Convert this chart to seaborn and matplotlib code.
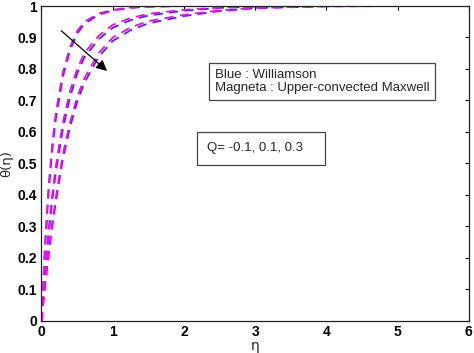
import matplotlib
matplotlib.use("Agg")
import matplotlib.pyplot as plt
import seaborn as sns
import pandas as pd

# eta grid and read-off values
eta = [0, 0.05, 0.1, 0.15, 0.2, 0.3, 0.4, 0.5, 0.6, 0.8, 1.0, 1.25, 1.5, 2.0, 2.5, 3.0, 4.0, 5.0, 6.0]

# Magenta: Upper-convected Maxwell, Q = -0.1, 0.1, 0.3
ucm_q1 = [0, 0.25, 0.43, 0.56, 0.66, 0.79, 0.87, 0.92, 0.95, 0.976, 0.988, 0.995, 0.998, 1.0, 1.0, 1.0, 1.0, 1.0, 1.0]
ucm_q2 = [0, 0.16, 0.29, 0.40, 0.49, 0.63, 0.73, 0.80, 0.85, 0.905, 0.940, 0.962, 0.975, 0.988, 0.995, 0.998, 1.0, 1.0, 1.0]
ucm_q3 = [0, 0.12, 0.22, 0.31, 0.39, 0.53, 0.63, 0.71, 0.77, 0.85, 0.900, 0.932, 0.952, 0.972, 0.986, 0.994, 0.999, 1.0, 1.0]

# Blue: Williamson, Q = -0.1, 0.1, 0.3
wil_q1 = [0, 0.23, 0.41, 0.54, 0.64, 0.775, 0.86, 0.912, 0.943, 0.972, 0.986, 0.994, 0.998, 1.0, 1.0, 1.0, 1.0, 1.0, 1.0]
wil_q2 = [0, 0.15, 0.27, 0.38, 0.47, 0.61, 0.71, 0.785, 0.836, 0.894, 0.931, 0.955, 0.970, 0.985, 0.994, 0.998, 1.0, 1.0, 1.0]
wil_q3 = [0, 0.11, 0.21, 0.30, 0.375, 0.515, 0.615, 0.695, 0.755, 0.838, 0.889, 0.923, 0.945, 0.968, 0.984, 0.993, 0.999, 1.0, 1.0]

x_ticks = [0, 1, 2, 3, 4, 5, 6]
y_ticks = [0, 0.1, 0.2, 0.3, 0.4, 0.5, 0.6, 0.7, 0.8, 0.9, 1]
y_tick_labels = ["0", "0.1", "0.2", "0.3", "0.4", "0.5", "0.6", "0.7", "0.8", "0.9", "1"]

sns.set_theme(style="white")
plt.rcParams['font.family'] = ['Liberation Sans', 'DejaVu Sans']

fig = plt.figure(figsize=(4.74, 3.53), dpi=100)
ax = fig.add_axes([0.0875, 0.0907, 0.9015, 0.8923])

series = [
    (wil_q1, "#3030ff"), (wil_q2, "#3030ff"), (wil_q3, "#3030ff"),
    (ucm_q1, "#ff00ff"), (ucm_q2, "#ff00ff"), (ucm_q3, "#ff00ff"),
]
for vals, col in series:
    df = pd.DataFrame({"eta": eta, "theta": vals})
    sns.lineplot(data=df, x="eta", y="theta", ax=ax, color=col,
                 linewidth=1.3, linestyle=(0, (5, 3.5)), estimator=None)

ax.set_xlim(0, 6)
ax.set_ylim(0, 1)
ax.set_xticks(x_ticks)
ax.set_yticks(y_ticks)
ax.set_xticklabels([str(t) for t in x_ticks])
ax.set_yticklabels(y_tick_labels)
ax.tick_params(direction="in", length=3, width=0.8, top=True, right=True,
               labelsize=10, pad=3, colors="black")
for lbl in ax.get_xticklabels() + ax.get_yticklabels():
    lbl.set_fontweight("semibold")
for s in ax.spines.values():
    s.set_color("#222222")
    s.set_linewidth(0.9)
    s.set_visible(True)

ax.set_xlabel("η", fontsize=10, labelpad=0, family=["DejaVu Sans"])
ax.set_ylabel("θ(η)", fontsize=9.5, labelpad=3, family=["DejaVu Sans"])

ax.annotate("", xy=(0.95, 0.788), xytext=(0.25, 0.927),
            arrowprops=dict(arrowstyle="-|>", color="black", lw=0.9,
                            mutation_scale=16))

ax.text(2.43, 0.76, "Blue : Williamson\nMagneta : Upper-convected Maxwell",
        fontsize=9.5, va="center", ha="left", linespacing=1.15,
        bbox=dict(boxstyle="square,pad=0.45", fc="white", ec="#444444", lw=0.9))
ax.text(2.33, 0.548, "Q= -0.1, 0.1, 0.3   ", fontsize=9.5, va="center", ha="left",
        bbox=dict(boxstyle="square,pad=0.8", fc="white", ec="#444444", lw=0.9))

fig.savefig("out.png", dpi=100)
